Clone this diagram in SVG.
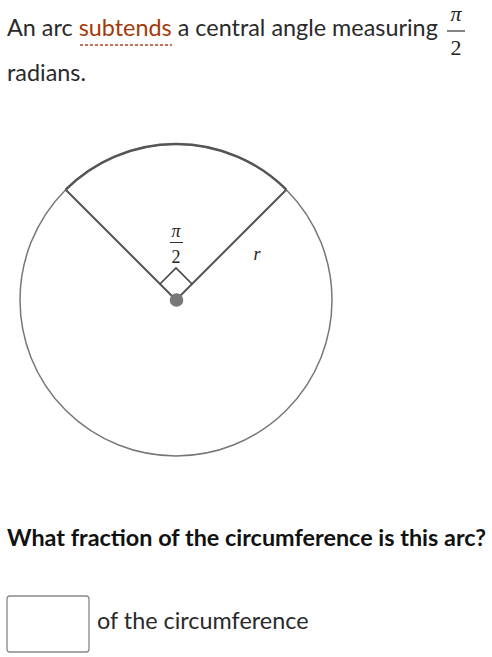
<svg xmlns="http://www.w3.org/2000/svg" width="492" height="657" viewBox="0 0 492 657">
<style>
.t{font-family:Lato,"Open Sans","Liberation Sans",sans-serif;font-size:23.4px;fill:#2a2a2a}
.b{font-weight:bold;fill:#111}
.m{font-family:"Liberation Serif","DejaVu Serif",serif;font-style:italic;fill:#222}
.mn{font-family:"Liberation Serif","DejaVu Serif",serif;fill:#222}
</style>
<rect width="492" height="657" fill="#fff"/>
<g id="question">
<text class="t" x="7" y="36">An arc <tspan fill="#a33a0b">subtends</tspan> a central angle measuring</text>
<line x1="80" y1="45" x2="172" y2="45" stroke="#b0461a" stroke-width="1.3" stroke-dasharray="3,2"/>
<text class="m" x="456" y="21" font-size="22" text-anchor="middle">π</text>
<line x1="447" y1="31" x2="465" y2="31" stroke="#333" stroke-width="1.2"/>
<text class="mn" x="456" y="55" font-size="22" text-anchor="middle">2</text>
<text class="t" x="7" y="81">radians.</text>
</g>
<g id="circle">
<circle cx="176" cy="300" r="156" fill="none" stroke="#777" stroke-width="1.5"/>
<path d="M65.7,189.7 A156,156 0 0 1 286.3,189.7" fill="none" stroke="#555" stroke-width="2.5"/>
</g>
<g id="radii">
<line x1="176" y1="300" x2="65.7" y2="189.7" stroke="#555" stroke-width="2"/>
<line x1="176" y1="300" x2="286.3" y2="189.7" stroke="#555" stroke-width="2"/>
<path d="M160,284 L176,268 L192,284" fill="none" stroke="#444" stroke-width="1.6"/>
<circle cx="176.5" cy="300" r="6.8" fill="#777"/>
</g>
<g id="labels">
<text class="m" x="176" y="237" font-size="18" text-anchor="middle">π</text>
<line x1="170" y1="242.5" x2="183" y2="242.5" stroke="#333" stroke-width="1"/>
<text class="mn" x="176" y="263" font-size="18" text-anchor="middle">2</text>
<text class="m" x="257" y="260" font-size="18" text-anchor="middle">r</text>
</g>
<g id="answer">
<text class="t b" x="7" y="546">What fraction of the circumference is this arc?</text>
<rect x="7" y="596" width="82" height="56" rx="3" fill="#fff" stroke="#888" stroke-width="1.3"/>
<text class="t" x="97" y="629">of the circumference</text>
</g>
</svg>
